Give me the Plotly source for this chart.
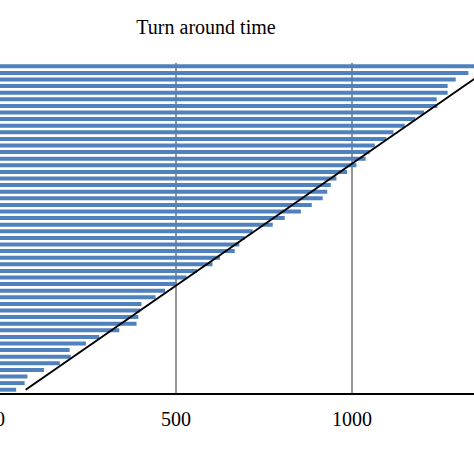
import numpy as np
import plotly.graph_objects as go

# job number, bottom (1) to top (50)
jobs = list(range(1, 51))

# turn around time for each job
turnaround = [
    46, 70, 78, 125, 170, 201, 198, 244, 282, 339,
    388, 393, 398, 402, 442, 469, 502, 530, 560, 604,
    625, 667, 680, 695, 718, 775, 809, 855, 886, 917,
    930, 940, 956, 986, 1013, 1039, 1050, 1065, 1098, 1118,
    1150, 1180, 1205, 1243, 1241, 1272, 1272, 1295, 1331, 1360,
]

x_ticks = [0, 500, 1000]

# linear trend line over the bars (as Excel would draw it)
slope, intercept = np.polyfit(jobs, turnaround, 1)
trend_y = [jobs[0], jobs[-1]]
trend_x = [intercept + slope * j for j in trend_y]

fig = go.Figure()

fig.add_trace(go.Bar(
    x=turnaround, y=jobs, orientation="h",
    marker_color="#4F81BD", marker_line_width=0,
    showlegend=False, hoverinfo="skip",
))

fig.add_trace(go.Scatter(
    x=trend_x, y=trend_y, mode="lines",
    line=dict(color="black", width=2),
    showlegend=False, hoverinfo="skip",
))

fig.update_layout(
    width=474, height=474,
    margin=dict(l=0, r=0, t=63, b=81),
    paper_bgcolor="white", plot_bgcolor="white",
    bargap=0.4,
    font=dict(family="Liberation Serif", size=20, color="black"),
    title=dict(text="Turn around time", x=206 / 474, xanchor="center",
               y=1 - 27 / 474, yanchor="middle", yref="container",
               font=dict(family="Liberation Serif", size=20, color="black")),
)

fig.update_xaxes(
    range=[0, 1347], tickvals=x_ticks, ticktext=[str(v) for v in x_ticks],
    showgrid=True, gridcolor="#969696", gridwidth=1.5,
    zeroline=False, showline=True, linecolor="black", linewidth=1.5,
    ticks="", ticklabelstandoff=7, automargin=False,
    tickfont=dict(family="Liberation Serif", size=20, color="black"),
)
fig.update_yaxes(
    range=[0.5, 50.5], showticklabels=False, showgrid=False,
    zeroline=False, showline=False, ticks="", automargin=False,
)

# plotly drops the "0" label at the very edge; the original shows it half cut
fig.add_annotation(
    x=x_ticks[0], xref="x", y=0, yref="paper", yanchor="top", yshift=-13,
    text=str(x_ticks[0]), showarrow=False,
    font=dict(family="Liberation Serif", size=20, color="black"),
)

# page body has a default margin; drop it so the figure sits at the corner
fig.write_html("out.html", config={"displayModeBar": False},
               post_script="document.body.style.margin='0';")
